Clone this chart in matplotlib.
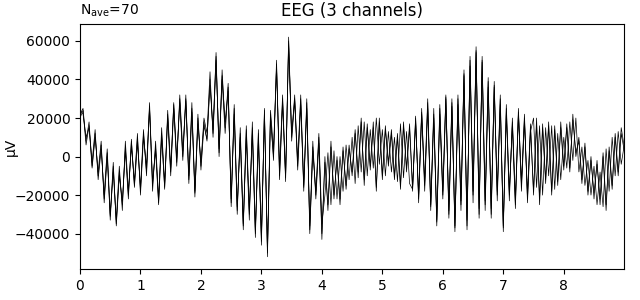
import numpy as np
from matplotlib import pyplot as plt

# valores em milhares de µV, um ponto a cada 0.05 s (0 a 9 s)
passo = 0.05
canal1 = [22, 25, 8, 18, -5, 12, -10, 6, -22, 2,
          -33, -5, -35, -8, -25, 5, -20, 8, -15, 10,
          -18, 12, -8, 28, -15, 5, -24, 12, -17, 22,
          -8, 28, -3, 30, 0, 32, -12, 25, -21, 20,
          -5, 18, 8, 40, 12, 54, 0, 45, 15, 38,
          -26, 25, -28, 12, -38, 14, -30, 15, -42, 12,
          -46, 25, -52, 20, 0, 50, -10, 30, -13, 62,
          10, 32, -5, 30, -18, 28, -40, 5, -20, 10,
          -43, 0, -28, 5, -20, -2, -25, 3, -15, 6,
          -10, 12, -8, 20, -15, 15, -5, 18, -18, 20,
          -10, 16, -5, 12, -12, 10, -15, 18, -8, 15,
          -18, 20, -22, 25, -15, 28, -28, 22, -36, 25,
          -20, 32, -30, 28, -39, 30, -25, 45, -36, 50,
          -20, 57, -30, 52, -25, 39, -30, 39, -20, 30,
          -39, 25, -20, 18, -25, 25, -15, 20, -22, 15,
          -18, 20, -25, 15, -12, 18, -20, 14, -15, 18,
          -5, 15, -8, 22, 0, 10, -12, 5, -18, 0,
          -22, -2, -25, 0, -28, 5, -15, 12, -8, 15,
          5]
canal2 = [24, 22, 10, 15, -3, 14, -12, 4, -20, 4,
          -30, -8, -33, -5, -28, 8, -18, 5, -13, 12,
          -20, 10, -5, 26, -18, 8, -22, 15, -14, 20,
          -10, 25, -5, 32, 3, 29, -10, 28, -19, 17,
          -3, 20, 12, 44, 10, 50, 4, 42, 18, 34,
          -22, 22, -30, 15, -35, 10, -33, 18, -38, 8,
          -42, 22, -48, 24, 4, 46, -6, 32, -10, 58,
          12, 30, -2, 32, -15, 25, -36, 8, -22, 7,
          -40, -3, -25, 8, -22, 0, -22, 5, -17, 4,
          -8, 14, -11, 18, -12, 17, -7, 15, -16, 18,
          -12, 14, -3, 14, -10, 12, -17, 16, -6, 17,
          -16, 18, -20, 22, -18, 25, -25, 25, -33, 22,
          -22, 30, -28, 30, -36, 27, -28, 42, -33, 47,
          -24, 54, -27, 49, -28, 36, -27, 36, -23, 27,
          -36, 22, -23, 20, -22, 22, -18, 18, -19, 17,
          -20, 17, -22, 17, -14, 16, -18, 16, -13, 15,
          -7, 17, -6, 19, 2, 8, -14, 7, -20, -2,
          -19, -4, -22, 2, -25, 3, -17, 10, -10, 12,
          3]
canal3 = [20, 24, 6, 16, -6, 10, -8, 8, -24, 0,
          -31, -3, -36, -10, -23, 3, -22, 9, -16, 7,
          -16, 14, -10, 25, -13, 3, -25, 10, -16, 24,
          -6, 27, -1, 28, -2, 30, -14, 23, -18, 22,
          -7, 16, 9, 37, 14, 52, 2, 40, 12, 36,
          -24, 27, -26, 10, -36, 16, -28, 12, -40, 14,
          -44, 24, -50, 22, -2, 48, -12, 28, -11, 60,
          8, 29, -7, 27, -16, 30, -38, 3, -18, 12,
          -35, -20, 2, -25, 3, -22, 0, -18, 6, -12,
          10, -14, 16, -8, 18, -10, 14, -6, 20, -4,
          14, -10, 13, -8, 10, -13, 17, -11, 13, -14,
          -17, 21, -24, 23, -13, 30, -26, 20, -34, 27,
          -18, 31, -32, 26, -37, 32, -23, 43, -38, 52,
          -18, 55, -32, 50, -23, 41, -32, 37, -18, 32,
          -37, 27, -18, 16, -27, 23, -13, 22, -24, 13,
          20, -16, 16, -20, 15, -10, 16, -17, 12, -12,
          10, -6, 18, -2, 20, -8, 5, -15, -2, -20,
          -5, -25, -8, -26, 4, -18, 10, -10, 13, -4,
          6]

canais = [canal1, canal2, canal3]
tempo = np.arange(len(canal1)) * passo

fig = plt.figure(figsize=(6.4, 3.0), dpi=100)
ax = fig.add_axes([0.125, 0.103, 0.85, 0.817])
for c in canais:
    ax.plot(tempo, np.array(c) * 1000, color='k', lw=0.5)

ax.set_xlim(0, 8.996)
ax.set_ylim(-58400, 68800)
ax.set_xticks(range(9))
ax.set_yticks([-40000, -20000, 0, 20000, 40000, 60000])
ax.set_title('EEG (3 channels)')
ax.set_ylabel('µV')
ax.yaxis.set_label_coords(-0.115, 0.5)
fig.text(0.125, 0.99, r'N$_{\mathrm{ave}}$=70', ha='left', va='top')

plt.savefig('out.png')
